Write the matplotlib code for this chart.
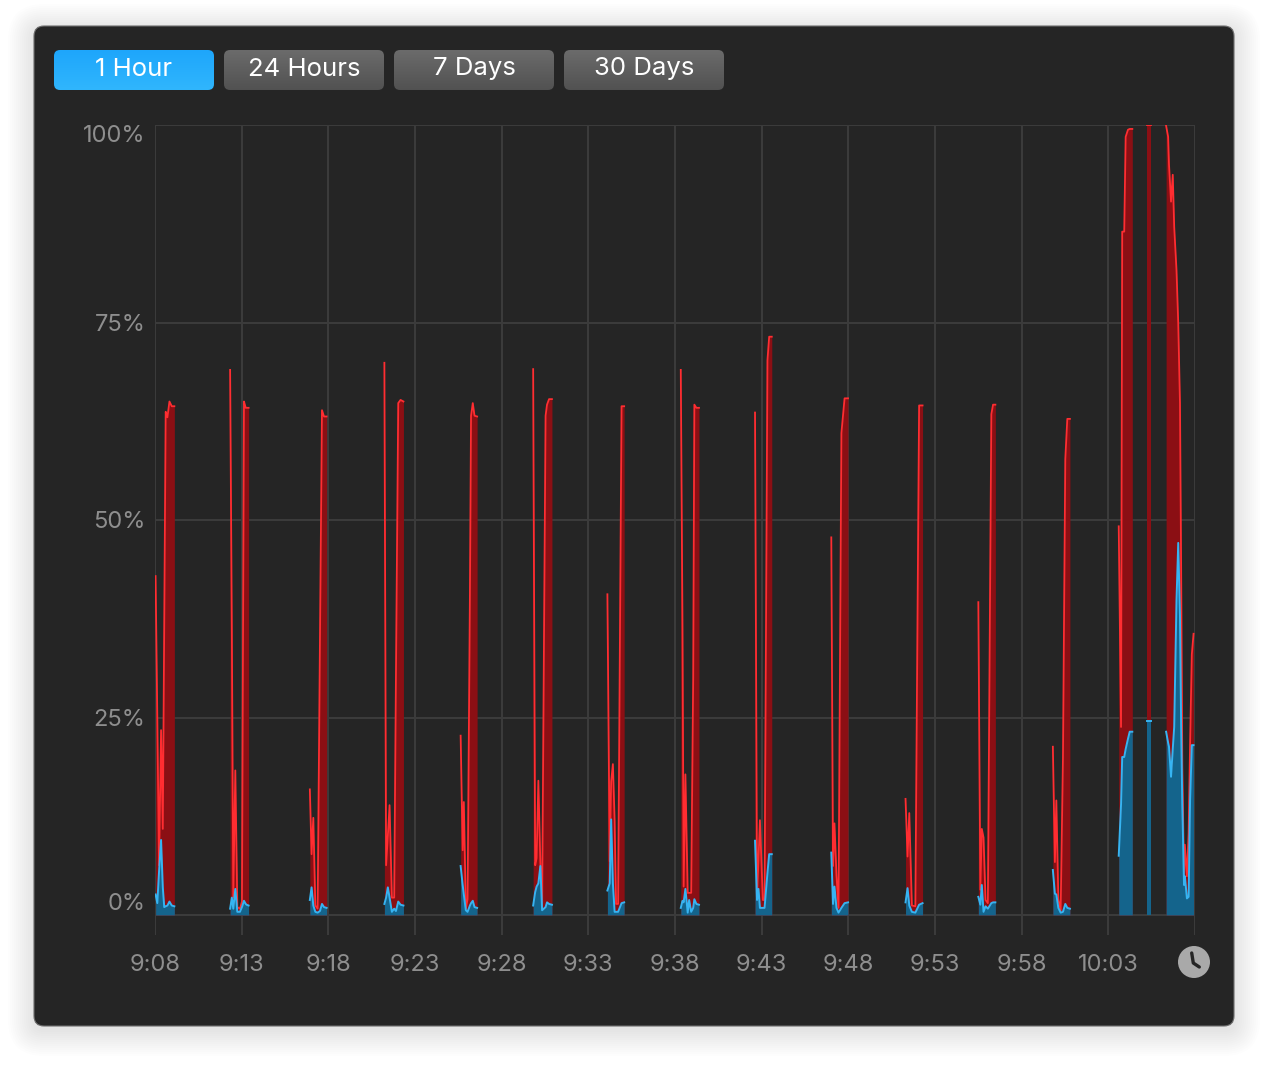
import numpy as np
import matplotlib
matplotlib.use('Agg')
import matplotlib.pyplot as plt
from matplotlib.patches import FancyBboxPatch, Circle

# samples per burst of activity, seconds after 9:08
burst_seconds = [
    [2, 8, 14, 21, 27, 32, 37, 43, 50, 58, 67],
    [260, 266, 271, 278, 285, 294, 301, 308, 314, 317, 324],
    [536, 542, 548, 555, 563, 571, 578, 585, 594],
    [794, 800, 806, 812, 820, 828, 834, 842, 850, 860],
    [1058, 1065, 1069, 1076, 1082, 1090, 1094, 1100, 1106, 1115],
    [1309, 1316, 1321, 1327, 1334, 1340, 1352, 1357, 1364, 1374],
    [1566, 1574, 1579, 1585, 1591, 1596, 1603, 1615, 1624],
    [1820, 1826, 1830, 1836, 1844, 1849, 1856, 1863, 1867, 1874, 1883],
    [2077, 2084, 2089, 2094, 2104, 2110, 2120, 2126, 2135],
    [2341, 2347, 2352, 2359, 2366, 2376, 2387, 2399],
    [2598, 2605, 2611, 2620, 2632, 2645, 2657],
    [2850, 2857, 2862, 2868, 2875, 2883, 2895, 2901, 2909],
    [3108, 3115, 3120, 3127, 3135, 3143, 3151, 3158, 3167],
    [3336, 3344, 3348, 3355, 3360, 3368, 3374, 3383],
    [3435, 3447],
    [3500, 3507, 3510, 3517, 3523, 3528, 3536, 3542, 3548, 3552, 3556, 3562, 3565, 3572, 3578, 3583, 3589, 3595],
]

# red line, stacked total in percent
total_load = [
    [42.9, 25, 6.3, 23.4, 10.9, 37, 63.7, 63, 65, 64.4, 64.4],
    [69, 36, 2.2, 18.3, 1, 0.8, 1.7, 65, 64.2, 64.2, 64.2],
    [15.9, 7.7, 12.3, 1.2, 0.8, 34.8, 63.9, 63.1, 63.1],
    [69.9, 6.3, 10, 13.9, 2.2, 2.2, 30, 64.8, 65.2, 65],
    [22.7, 8.2, 14.3, 0.8, 2, 40, 63.2, 64.8, 63.2, 63.1],
    [69.1, 6.3, 7.2, 17, 6.5, 1.2, 63.2, 64.6, 65.3, 65.3],
    [40.6, 6.8, 16.9, 19.1, 12, 1.4, 1.4, 64.4, 64.4],
    [69, 36, 3.6, 17.8, 2.8, 2.8, 2.8, 30, 64.6, 64.2, 64.2],
    [63.6, 2.4, 7, 12, 1.9, 1.9, 70.2, 73.2, 73.2],
    [47.8, 6.2, 11.6, 5, 0.9, 61, 65.4, 65.4],
    [14.7, 7.4, 12.9, 1.2, 1.1, 64.5, 64.5],
    [39.6, 3.2, 10.9, 9.8, 1.9, 1.5, 63.4, 64.6, 64.6],
    [21.3, 6.7, 14.5, 2, 0.6, 20, 57.7, 62.8, 62.8],
    [49.2, 23.8, 86.5, 86.5, 98.5, 99.4, 99.5, 99.5],
    [100, 100],
    [99.9, 98.5, 95, 90.3, 93.7, 87.1, 81.6, 74.9, 64.8, 44, 18.9, 4.9, 8.9, 4.9, 10.3, 21.8, 33, 35.6],
]

# blue line in percent
user_load = [
    [2.6, 1.5, 5.5, 9.5, 3.5, 1, 1.1, 1.2, 1.7, 1.2, 1.1],
    [0.8, 2.2, 0.8, 3.3, 0.4, 0.4, 1, 1.8, 1.4, 1.3, 1.2],
    [1.9, 3.5, 1.2, 0.4, 0.3, 0.5, 1.4, 1, 0.9],
    [1.4, 2.2, 3.5, 2.2, 0.4, 0.8, 0.5, 1.7, 1.3, 1.2],
    [6.2, 3.8, 2.6, 0.6, 0.4, 1.2, 1.5, 1.8, 1, 0.9],
    [1.2, 2.9, 3.6, 4, 6.2, 0.6, 1, 1.6, 1.4, 1.3],
    [3.1, 4, 12.1, 4, 0.4, 0.4, 0.4, 1.5, 1.6],
    [0.9, 1.8, 1.6, 3.3, 0.3, 1.9, 0.4, 0.9, 2, 1.4, 1.3],
    [9.4, 1.9, 3.3, 0.9, 0.9, 0.9, 5.3, 7.7, 7.7],
    [7.9, 1.4, 3.6, 0.9, 0.3, 0.9, 1.5, 1.6],
    [1.6, 3.4, 1.2, 0.4, 0.3, 1.3, 1.5],
    [2.3, 1.3, 3.8, 0.4, 1.1, 0.8, 1.5, 1.6, 1.6],
    [5.7, 2.7, 2.6, 0.9, 0.3, 0.4, 1.4, 0.9, 0.8],
    [7.5, 14, 20, 20, 21, 22.3, 23.2, 23.2],
    [24.5, 24.5],
    [23.2, 21.8, 21.3, 17.5, 21, 23.8, 39.9, 47.1, 37.8, 24, 14, 3.8, 4.9, 2.1, 2.3, 14.6, 21.5, 21.5],
]

x_ticks = [0, 5, 10, 15, 20, 25, 30, 35, 40, 45, 50, 55, 60]
x_labels = ['9:08', '9:13', '9:18', '9:23', '9:28', '9:33', '9:38', '9:43', '9:48', '9:53', '9:58', '10:03', '']
y_ticks = [0, 25, 50, 75, 100]
y_labels = ['0%', '25%', '50%', '75%', '100%']
buttons = ['1 Hour', '24 Hours', '7 Days', '30 Days']

W, H = 1268, 1068
PANEL = '#252525'
plt.rcParams['font.family'] = ['Inter', 'DejaVu Sans']

fig = plt.figure(figsize=(W / 100, H / 100), dpi=100, facecolor='white')

# full figure overlay in pixels, for the window and the buttons
bg = fig.add_axes([0, 0, 1, 1], zorder=0)
bg.set_xlim(0, W)
bg.set_ylim(H, 0)
bg.axis('off')

# soft shadow
for pad in range(26, 0, -2):
    bg.add_patch(FancyBboxPatch((34, 30), 1200, 1000, boxstyle='round,pad=%d,rounding_size=%d' % (pad, pad + 10),
                                fc='black', ec='none', alpha=0.006))
bg.add_patch(FancyBboxPatch((34, 26), 1200, 1000, boxstyle='round,pad=0,rounding_size=10',
                            fc=PANEL, ec='#6e6e6e', lw=0.8))

grey_grad = np.linspace(0.42, 0.32, 64).reshape(-1, 1)
for i, name in enumerate(buttons):
    x0 = 54 + i * 170
    box = FancyBboxPatch((x0, 50), 160, 40, boxstyle='round,pad=0,rounding_size=6', fc='none', ec='none')
    bg.add_patch(box)
    if i == 0:
        grad = np.linspace(0, 1, 64).reshape(-1, 1)
        rgb = np.array([0x1e, 0xa6, 0xfb]) * (1 - grad) + np.array([0x30, 0xb6, 0xfd]) * grad
        img = bg.imshow((rgb / 255).reshape(64, 1, 3), extent=(x0, x0 + 160, 90, 50), aspect='auto', zorder=2)
    else:
        img = bg.imshow(np.dstack([grey_grad] * 3), extent=(x0, x0 + 160, 90, 50), aspect='auto', zorder=2)
    img.set_clip_path(box)
    bg.text(x0 + 80, 69, name, color='white', fontsize=18.5, ha='center', va='center', zorder=3)
bg.set_xlim(0, W)
bg.set_ylim(H, 0)

# clock icon in the corner
bg.add_patch(Circle((1194, 962), 16, fc='#a9a9a9', ec='none', zorder=3))
bg.plot([1191.7, 1193.3, 1199.3], [953, 963, 967], color=PANEL, lw=2.4, zorder=4,
        solid_capstyle='round', solid_joinstyle='round')

# chart, the axes runs 20px below 0% so the vertical grid sticks out
ax = fig.add_axes([155 / W, (H - 935) / H, 1040 / W, 810 / H], zorder=1)
ax.patch.set_alpha(0)
ax.set_xlim(0, 60)
ax.set_ylim(-20 * 100 / 790, 100)
for s in ax.spines.values():
    s.set_visible(False)

for secs, total, user in zip(burst_seconds, total_load, user_load):
    t = np.array(secs) / 60
    ax.fill_between(t, 0, total, color='#8b0f14', lw=0, zorder=2)
    ax.plot(t, total, color='#ff2d31', lw=1.3, zorder=3, solid_joinstyle='round')
    ax.fill_between(t, 0, user, color='#14648c', lw=0, zorder=4)
    ax.plot(t, user, color='#36b4f2', lw=1.4, zorder=5, solid_joinstyle='round')

ax.set_xticks(x_ticks)
ax.set_xticklabels(x_labels)
ax.set_yticks(y_ticks)
ax.set_yticklabels(y_labels)
ax.grid(True, color='#3c3c3c', lw=1.4, zorder=1)
ax.set_axisbelow(True)
# horizontal lines stop at the plot edges, tick marks are not drawn
ax.tick_params(axis='both', length=0, labelsize=17, labelcolor='#8e8e8e')
ax.tick_params(axis='x', pad=14)
ax.tick_params(axis='y', pad=7)
for lab, val in zip(ax.get_yticklabels(), y_ticks):
    if val == 100:
        lab.set_verticalalignment('top')
    elif val == 0:
        lab.set_verticalalignment('bottom')

fig.savefig('out.png', dpi=100)
